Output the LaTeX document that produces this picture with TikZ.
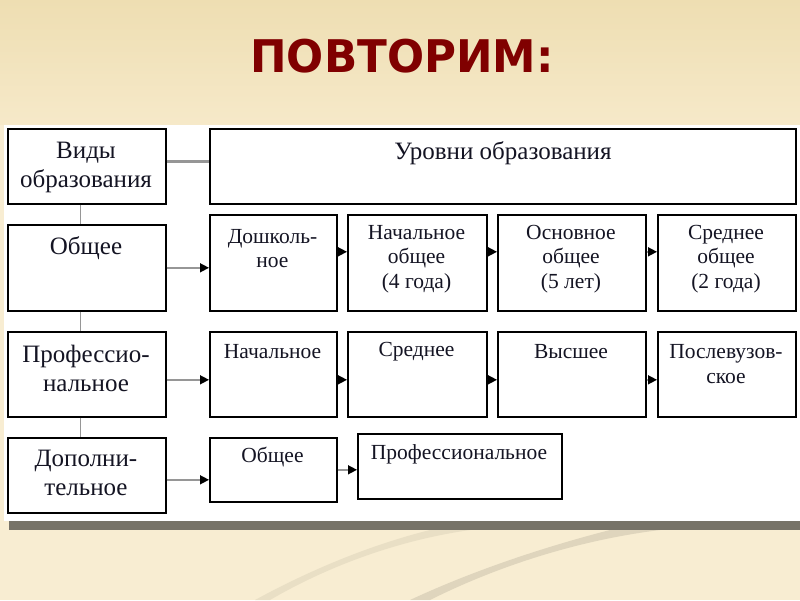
\documentclass[tikz,border=0pt]{standalone}
\usepackage{fontspec}
\setmainfont{Liberation Serif}
\newfontfamily\titlefont{DejaVu Sans}
\usetikzlibrary{arrows.meta,calc}
\definecolor{topbg}{RGB}{238,222,178}
\definecolor{topbg2}{RGB}{246,233,201}
\definecolor{botbg}{RGB}{248,237,210}
\definecolor{band}{RGB}{119,115,104}
\definecolor{ttl}{RGB}{128,0,0}
\definecolor{conn}{RGB}{150,150,150}
\definecolor{txt}{RGB}{20,20,35}
\tikzset{
  box/.style={draw=black, line width=1.6pt, fill=white, rectangle, inner sep=0pt, anchor=north west},
  bigt/.style={text=txt, align=center, inner sep=0pt, font=\fontsize{25}{29}\selectfont},
  smallt/.style={text=txt, align=center, inner sep=0pt, font=\fontsize{21.5}{24.5}\selectfont},
  link/.style={draw=conn, line width=1.3pt},
  arr/.style={draw=conn, line width=1.5pt, -{Triangle[length=9pt,width=9pt,color=black]}},
}
\begin{document}
\begin{tikzpicture}[x=1pt,y=-1pt]
\useasboundingbox (0,0) rectangle (800,600);
% backgrounds
\shade[top color=topbg, bottom color=topbg2] (0,0) rectangle (800,125);
\fill[botbg] (0,125) rectangle (800,600);
\fill[white] (4,125) rectangle (800,521);
\fill[black!6!botbg] (270,600) .. controls (330,565) and (400,540) .. (470,530) -- (430,530) .. controls (370,545) and (310,570) .. (255,600) -- cycle;
\fill[black!10!botbg] (430,600) .. controls (500,565) and (580,540) .. (660,530) -- (610,530) .. controls (540,548) and (470,572) .. (410,600) -- cycle;
\fill[band] (9,521) rectangle (800,530);
% title
\node[text=ttl, font=\titlefont\bfseries\fontsize{45}{50}\selectfont, inner sep=0pt, xscale=0.97] (title) at (402,56) {ПОВТОРИМ:};
% left column
\node[box, minimum width=158pt, minimum height=75pt] (vid) at (7,128) {};
\node[box, minimum width=158pt, minimum height=86pt] (obsh) at (7,224) {};
\node[box, minimum width=158pt, minimum height=85pt] (prof) at (7,331) {};
\node[box, minimum width=158pt, minimum height=75pt] (dop) at (7,437) {};
% header
\node[box, minimum width=586pt, minimum height=75pt] (urov) at (209,128) {};
% row 1
\node[box, minimum width=127pt, minimum height=96pt] (dosh) at (209,214) {};
\node[box, minimum width=139pt, minimum height=96pt] (nachob) at (347,214) {};
\node[box, minimum width=148pt, minimum height=96pt] (osnob) at (497,214) {};
\node[box, minimum width=138pt, minimum height=96pt] (sredob) at (657,214) {};
% row 2
\node[box, minimum width=127pt, minimum height=85pt] (nachpr) at (209,331) {};
\node[box, minimum width=139pt, minimum height=85pt] (sredpr) at (347,331) {};
\node[box, minimum width=148pt, minimum height=85pt] (vyssh) at (497,331) {};
\node[box, minimum width=138pt, minimum height=85pt] (poslev) at (657,331) {};
% row 3
\node[box, minimum width=127pt, minimum height=64pt] (dopob) at (209,437) {};
\node[box, minimum width=204pt, minimum height=65pt] (doppr) at (357,433) {};
% texts
\node[bigt] (vidt) at (86,167.5) {Виды\\образования};
\node[bigt] (obsht) at (86,248) {Общее};
\node[bigt] (proft) at (86,368) {Профессио-\\нальное};
\node[bigt] (dopt) at (86,473) {Дополни-\\тельное};
\node[bigt] (urovt) at (503,153) {Уровни образования};
\node[smallt] (dosht) at (272.5,248.5) {Дошколь-\\ное};
\node[smallt] (nachobt) at (416.5,259) {Начальное\\общее\\(4 года)};
\node[smallt] (osnobt) at (571,259) {Основное\\общее\\(5 лет)};
\node[smallt] (sredobt) at (726,259) {Среднее\\общее\\(2 года)};
\node[smallt] (nachprt) at (272.5,352) {Начальное};
\node[smallt] (sredprt) at (416.5,352) {Среднее};
\node[smallt] (vysst) at (571,352) {Высшее};
\node[smallt] (poslevt) at (726,364) {Послевузов-\\ское};
\node[smallt] (dopobt) at (272.5,457) {Общее};
\node[smallt] (dopprt) at (459,454) {Профессиональное};
% connectors
\draw[draw=conn, line width=3pt] ([yshift=4.5pt]vid.east) -- ([yshift=4.5pt]vid.east -| urov.west);
\draw[link] ([xshift=-6pt]vid.south) -- ([xshift=-6pt]obsh.north);
\draw[link] ([xshift=-6pt]obsh.south) -- ([xshift=-6pt]prof.north);
\draw[link] ([xshift=-6pt]prof.south) -- ([xshift=-6pt]dop.north);
\draw[arr] (obsh.east) -- (obsh.east -| dosh.west);
\draw[arr] ([yshift=11pt]dosh.east) -- ([yshift=11pt]dosh.east -| nachob.west);
\draw[arr] ([yshift=11pt]nachob.east) -- ([yshift=11pt]nachob.east -| osnob.west);
\draw[arr] ([yshift=11pt]osnob.east) -- ([yshift=11pt]osnob.east -| sredob.west);
\draw[arr] ([yshift=-5.5pt]prof.east) -- ([yshift=-5.5pt]prof.east -| nachpr.west);
\draw[arr] ([yshift=-5.5pt]nachpr.east) -- ([yshift=-5.5pt]nachpr.east -| sredpr.west);
\draw[arr] ([yshift=-5.5pt]sredpr.east) -- ([yshift=-5.5pt]sredpr.east -| vyssh.west);
\draw[arr] ([yshift=-5.5pt]vyssh.east) -- ([yshift=-5.5pt]vyssh.east -| poslev.west);
\draw[arr] ([yshift=-4.5pt]dop.east) -- ([yshift=-4.5pt]dop.east -| dopob.west);
\draw[arr] (dopob.east) -- (dopob.east -| doppr.west);
\end{tikzpicture}
\end{document}
